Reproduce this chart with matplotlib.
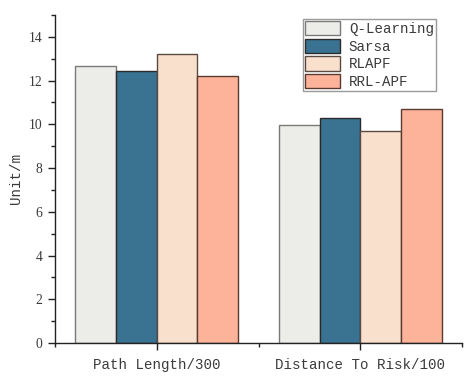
import matplotlib
matplotlib.use("Agg")
import matplotlib.pyplot as plt
import numpy as np
from matplotlib.ticker import MultipleLocator, FixedLocator

categories = ["Path Length/300", "Distance To Risk/100"]
methods = ["Q-Learning", "Sarsa", "RLAPF", "RRL-APF"]
values = {
    "Q-Learning": [12.67, 9.96],
    "Sarsa": [12.45, 10.27],
    "RLAPF": [13.21, 9.71],
    "RRL-APF": [12.22, 10.72],
}
fills = ["#ECECE8", "#3A7392", "#F8E0CD", "#FDB29A"]
edges = ["#7a7a7a", "#2b2b2b", "#5a4a42", "#5a3a30"]

label_font = "Liberation Mono"
tick_font = "Liberation Serif"
txt_color = "#3a3a3a"

fig = plt.figure(figsize=(4.74, 3.82), dpi=100)
ax = fig.add_axes([55/474, 1-343/382, (462-55)/474, (343-15)/382])

x = np.arange(len(categories))
w = 0.2
for i, m in enumerate(methods):
    ax.bar(x - 0.3 + i*w, values[m], width=w, color=fills[i], edgecolor=edges[i],
           linewidth=1.0, label=m, zorder=2)

ax.set_xlim(-0.5, 1.5)
ax.set_ylim(0, 15)
ax.set_xticks(x)
ax.set_xticklabels(categories, fontfamily=label_font, fontsize=10.2, color=txt_color)
ax.xaxis.set_minor_locator(FixedLocator([-0.5, 0.5, 1.5]))
ax.yaxis.set_major_locator(MultipleLocator(2))
ax.yaxis.set_minor_locator(MultipleLocator(1))
for lab in ax.get_yticklabels():
    lab.set_fontfamily(tick_font)
    lab.set_fontsize(9.8)
    lab.set_color(txt_color)
ax.tick_params(axis="both", which="major", direction="out", length=5, width=1.0, color="#222222")
ax.tick_params(axis="both", which="minor", direction="out", length=3, width=1.0, color="#222222")
ax.tick_params(axis="x", pad=6)
ax.tick_params(axis="y", pad=4)
ax.spines["top"].set_visible(False)
ax.spines["right"].set_visible(False)
for s in ["left", "bottom"]:
    ax.spines[s].set_linewidth(1.0)
    ax.spines[s].set_color("#222222")

ax.set_ylabel("Unit/m", fontfamily=label_font, fontsize=10.2, color=txt_color, labelpad=4)

leg = ax.legend(loc="upper right", bbox_to_anchor=(436/474, 1-19/382),
                bbox_transform=fig.transFigure, borderaxespad=0,
                prop={"family": label_font, "size": 10.2},
                handlelength=2.45, handleheight=1.15, labelspacing=0.2,
                handletextpad=0.65, borderpad=0.15, fancybox=False,
                framealpha=1, edgecolor="#9a9a9a")
leg.get_frame().set_linewidth(1.0)
for t in leg.get_texts():
    t.set_color(txt_color)

fig.savefig("out.png", dpi=100)
